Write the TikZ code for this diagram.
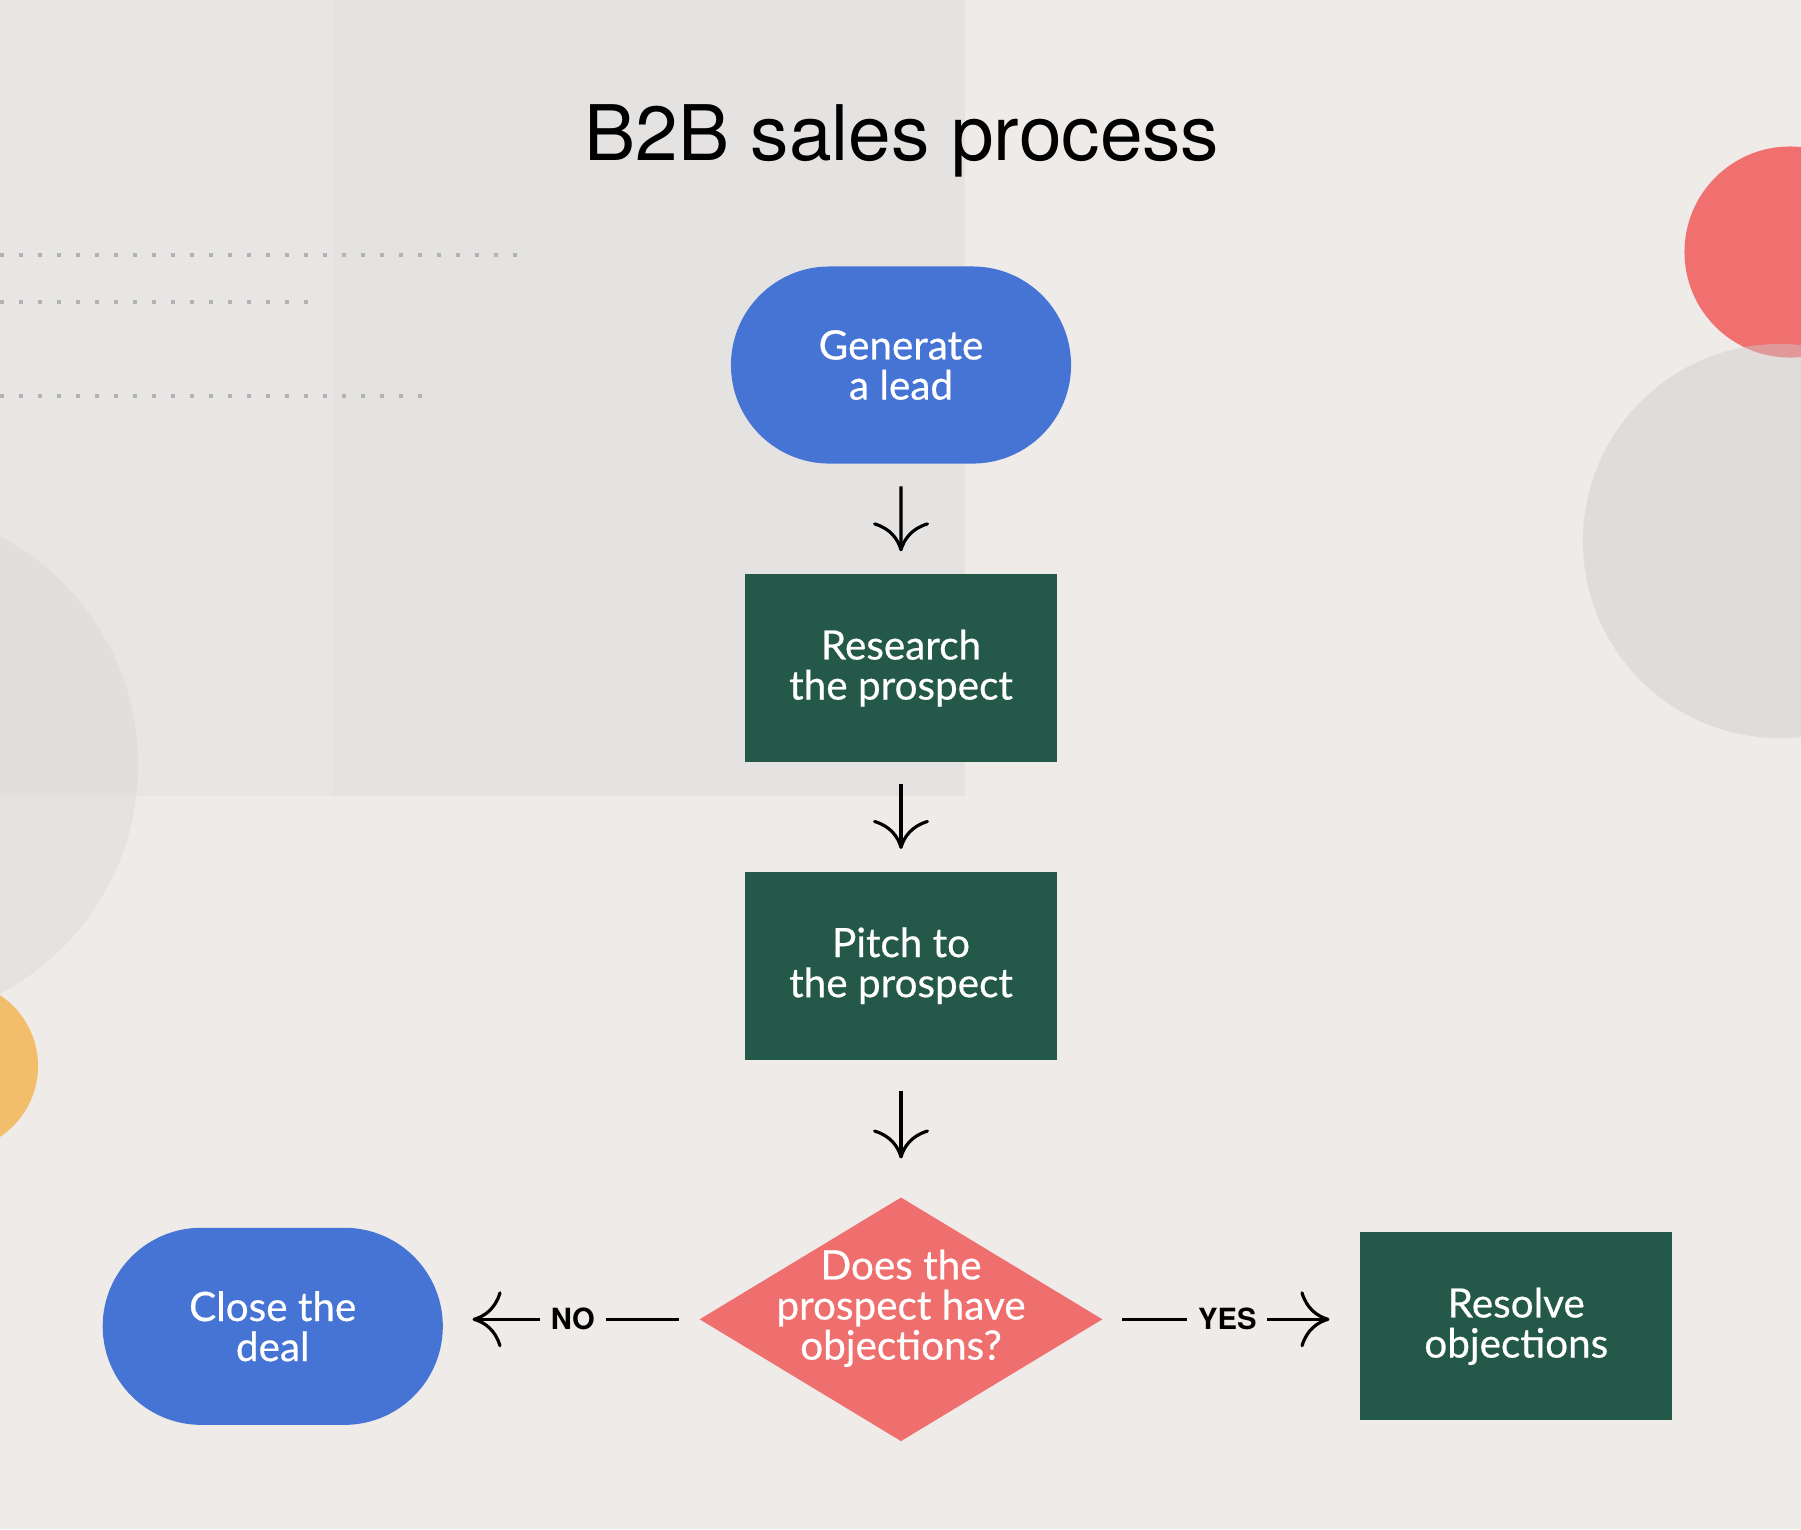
\documentclass[tikz,border=0pt]{standalone}
\usepackage{fontspec}
\setmainfont{Lato}
\newfontfamily\titlefont{TeX Gyre Heros}
\newfontfamily\boxfont[FakeBold=0.5]{Lato}
\usepackage{tikz}
\usetikzlibrary{positioning,shapes,arrows.meta}
\definecolor{leadblue}{RGB}{69,116,212}
\definecolor{stepgreen}{RGB}{36,89,74}
\definecolor{askred}{RGB}{239,111,111}
\definecolor{dotred}{RGB}{240,112,112}
\definecolor{dotyellow}{RGB}{243,190,108}
\definecolor{paper}{RGB}{238,235,233}
\definecolor{papertop}{RGB}{232,230,228}
\definecolor{papergrain}{RGB}{229,227,225}
\definecolor{halftone}{RGB}{205,203,201}
\newcommand{\nodefont}{\boxfont\fontsize{11.5}{11.4}\selectfont}
\newcommand{\answerfont}{\titlefont\bfseries\fontsize{8.3}{10}\selectfont}
\tikzstyle{terminal}=[%
      rounded rectangle, fill=leadblue, text=white, align=center,
      minimum width=3.54cm, minimum height=1.97cm, inner sep=2pt, font=\nodefont
]
\tikzstyle{stepbox}=[%
      rectangle, fill=stepgreen, text=white, align=center,
      minimum width=3.12cm, minimum height=1.88cm, inner sep=2pt, font=\nodefont
]
\tikzstyle{decision}=[%
      diamond, fill=askred, aspect=1.65,
      minimum width=4.03cm, minimum height=2.44cm, inner sep=0pt
]
\tikzstyle{answer}=[%
      font=\answerfont, text=black, inner sep=0.1cm
]
\tikzstyle{joinline}=[draw=black, line width=0.9pt]
\tikzstyle{flow}=[joinline, -{To[length=0.29cm,width=0.56cm]}]
\tikzstyle{dotrow}=[draw=gray!60, line width=1pt, dash pattern=on 1.2pt off 4.2pt]

\begin{document}
\begin{tikzpicture}[x=0.01cm, y=-0.01cm]
    % paper and decorations
    \useasboundingbox (0,0) rectangle (1801,1529);
    \begin{scope}
    \clip (0,0) rectangle (1801,1529);
    \fill[paper] (0,0) rectangle (1801,1529);
    \fill[papertop] (0,0) rectangle (333,796);
    \fill[papergrain] (333,0) rectangle (965,796);
    \draw[dotrow] (0,255) -- (520,255);
    \draw[dotrow] (0,302) -- (316,302);
    \draw[dotrow] (0,396) -- (425,396);
    \fill[halftone, opacity=0.25] (-120,765) circle[radius=2.58cm];
    \fill[dotyellow] (-47,1066) circle[radius=0.85cm];
    \fill[dotred] (1790,252) circle[radius=1.055cm];
    \fill[halftone, opacity=0.45] (1780,541) circle[radius=1.97cm];
    \end{scope}

    \node[font=\titlefont\fontsize{21.8}{26}\selectfont, anchor=base] (title) at (902,160) {B2B sales process};

    \node[terminal] (gen) at (901,365) {Generate\\a lead};
    \node[stepbox, below=1.09cm of gen] (research) {Research\\the prospect};
    \node[stepbox, below=1.08cm of research] (pitch) {Pitch to\\the prospect};
    \node[decision, below=1.36cm of pitch] (q) {};
    \node[text=white, align=center, font=\nodefont, inner sep=0pt, yshift=0.11cm] (qtext) at (q) {Does the\\prospect have\\objections?};
    \node[terminal, left=2.55cm of q, yshift=-0.07cm] (close) {Close the\\deal};
    \node[stepbox, right=2.56cm of q, yshift=-0.07cm] (resolve) {Resolve\\objections};
    \node[answer, left=0.93cm of q] (no) {NO};
    \node[answer, right=0.84cm of q] (yes) {YES};

    \draw[flow, shorten <=0.22cm, shorten >=0.22cm] (gen) -- (research);
    \draw[flow, shorten <=0.21cm, shorten >=0.22cm] (research) -- (pitch);
    \draw[flow, shorten <=0.31cm, shorten >=0.38cm] (pitch) -- (q);
    \draw[joinline, shorten <=0.2cm] (q) -- (no);
    \draw[flow, shorten >=0.29cm] (no) -- (no -| close.east);
    \draw[joinline, shorten <=0.19cm] (q) -- (yes);
    \draw[flow, shorten >=0.3cm] (yes) -- (yes -| resolve.west);
\end{tikzpicture}
\end{document}
